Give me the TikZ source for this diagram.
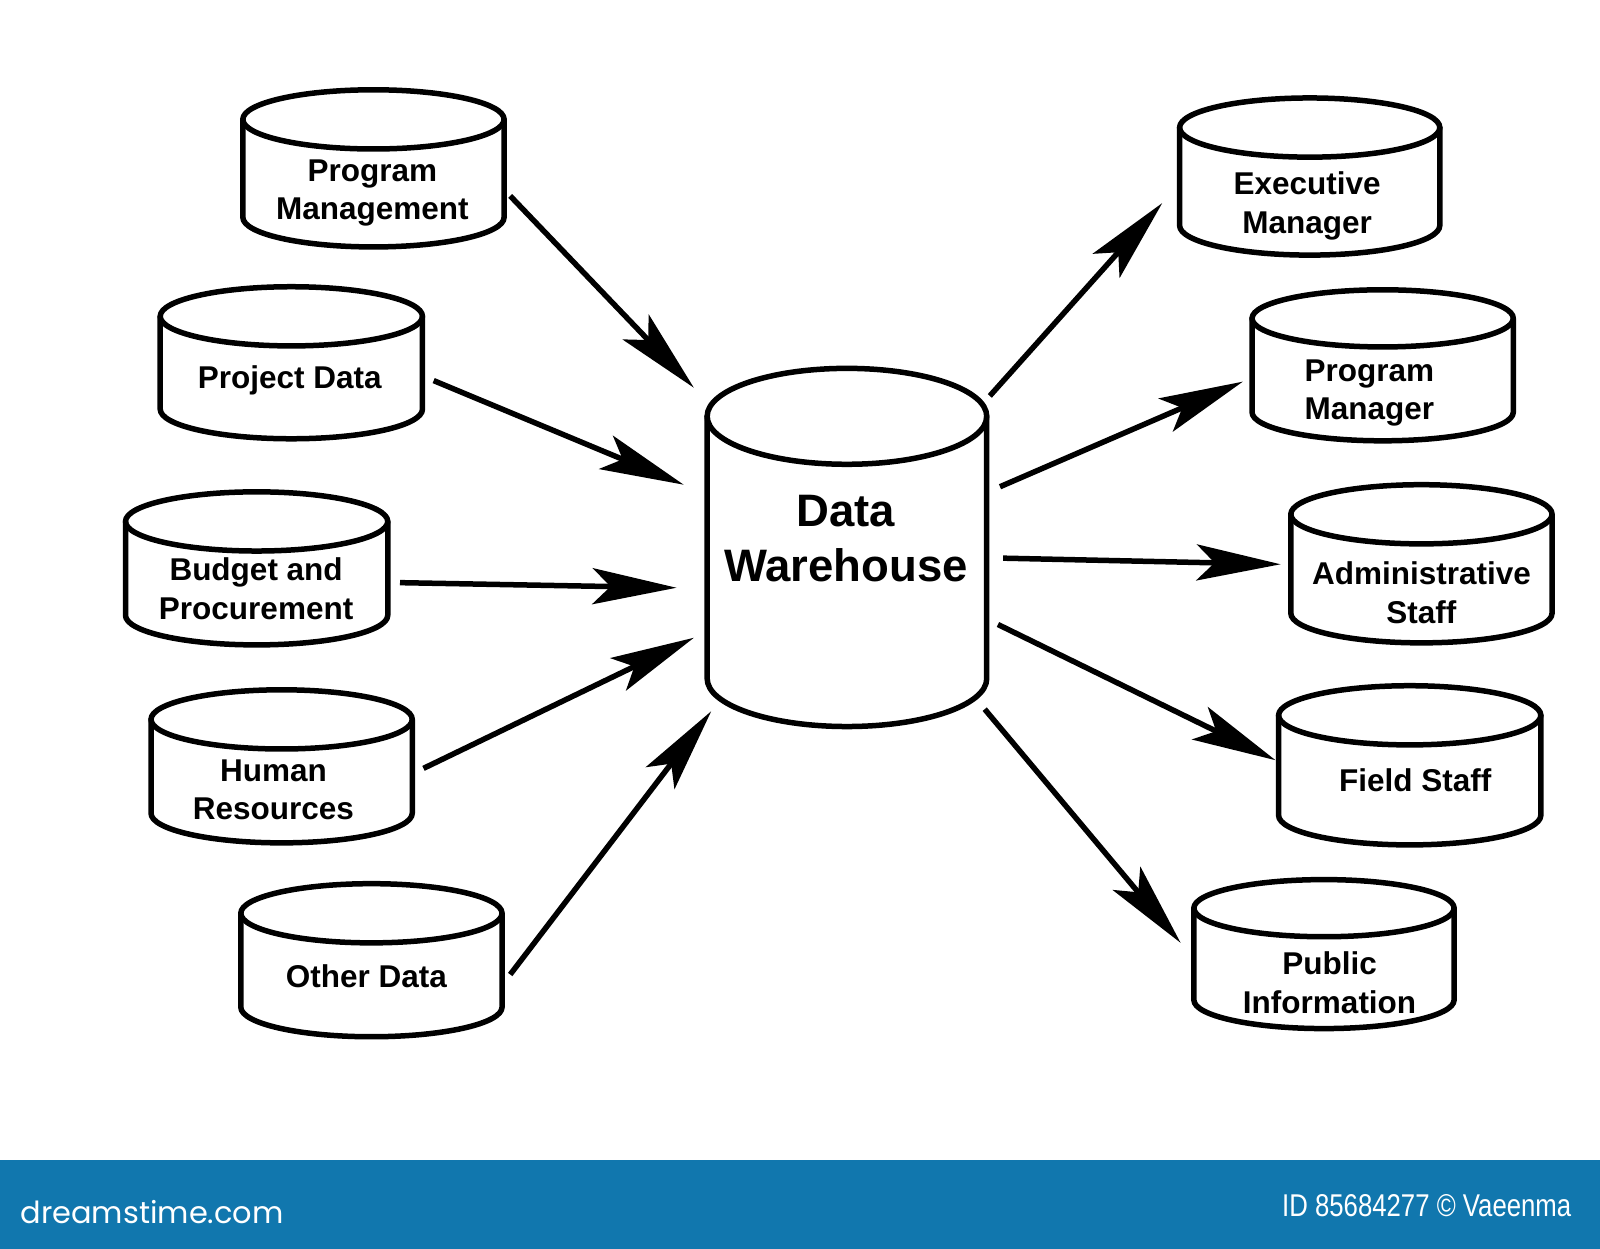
\documentclass[tikz,border=0pt]{standalone}
\usepackage{fontspec}
\setmainfont{Liberation Sans}
\usepackage{graphicx}
\usetikzlibrary{arrows.meta,calc}
\definecolor{bannerblue}{RGB}{17,119,174}
\newcommand{\cylshape}[5]{%
  \pgfmathsetmacro\cylxL{#1-(#4)/2}%
  \pgfmathsetmacro\cylxR{#1+(#4)/2}%
  \pgfmathsetmacro\cylyT{-(#2)-(#5)}%
  \pgfmathsetmacro\cylyB{-(#3)+(#5)}%
  \pgfmathsetmacro\cylrx{(#4)/2}%
  \draw[cyl] (#1,\cylyT) ellipse[x radius=\cylrx, y radius=#5];
  \draw[cyl] (\cylxL,\cylyT) -- (\cylxL,\cylyB) arc[start angle=180,end angle=360,x radius=\cylrx,y radius=#5] -- (\cylxR,\cylyT);
}
\begin{document}
\begin{tikzpicture}[x=1.0204pt,y=1.0204pt,
  cyl/.style={line width=5.5pt,line join=round,line cap=round},
  lbl/.style={font=\fontsize{31.5}{38.5}\selectfont\bfseries,align=center,inner sep=0pt},
  biglbl/.style={font=\fontsize{45.5}{55}\selectfont\bfseries,align=center,inner sep=0pt},
  arr/.style={line width=5.5pt,-{Stealth[length=84pt,width=36pt,inset=18pt]}}]
\useasboundingbox (0,0) rectangle (1568,-1224);
\fill[white] (0,0) rectangle (1568,-1224);

% cylinders: cx, top, bottom, width, ry
\cylshape{366}{88}{242}{256}{29}
\cylshape{285.5}{281}{430}{257}{29}
\cylshape{251.5}{482}{632}{257}{29}
\cylshape{276}{676}{826}{256}{29}
\cylshape{364}{866}{1016}{256}{29}
\cylshape{1283.5}{96}{250}{255}{29}
\cylshape{1355}{284}{432}{256}{28}
\cylshape{1393}{475}{630}{256}{29}
\cylshape{1381.5}{672}{828}{257}{29}
\cylshape{1297.5}{862}{1008}{255}{28}
\cylshape{830}{361}{712}{274}{47}

% labels
\node[lbl] (pm) at (365,-189) {Program\\Management};
\node[lbl] (pd) at (284,-373) {Project Data};
\node[lbl] (bp) at (251,-577) {Budget and\\Procurement};
\node[lbl] (hr) at (268,-774) {Human\\Resources};
\node[lbl] (od) at (359,-957) {Other Data};
\node[lbl] (em) at (1281,-202) {Executive\\Manager};
\node[lbl] (pmg) at (1342,-385) {Program\\Manager};
\node[lbl] (as) at (1393,-581) {Administrative\\Staff};
\node[lbl] (fs) at (1387,-765) {Field Staff};
\node[lbl] (pi) at (1303,-963) {Public\\Information};
\node[biglbl] (dw) at (829,-528) {Data\\Warehouse};

% arrow end points
\coordinate (pm-out) at (500,-192);  \coordinate (dw-in1) at (680,-380);
\coordinate (pd-out) at (425,-373);  \coordinate (dw-in2) at (670,-475);
\coordinate (bp-out) at (392,-571);  \coordinate (dw-in3) at (663,-576);
\coordinate (hr-out) at (415,-753);  \coordinate (dw-in4) at (680,-625);
\coordinate (od-out) at (500,-955);  \coordinate (dw-in5) at (697,-697);
\coordinate (dw-out1) at (970,-388); \coordinate (em-in) at (1139,-199);
\coordinate (dw-out2) at (980,-477); \coordinate (pmg-in) at (1218,-374);
\coordinate (dw-out3) at (983,-547); \coordinate (as-in) at (1255,-553);
\coordinate (dw-out4) at (978,-612); \coordinate (fs-in) at (1250,-745);
\coordinate (dw-out5) at (965,-695); \coordinate (pi-in) at (1157,-924);

\draw[arr] (pm-out) -- (dw-in1);
\draw[arr] (pd-out) -- (dw-in2);
\draw[arr] (bp-out) -- (dw-in3);
\draw[arr] (hr-out) -- (dw-in4);
\draw[arr] (od-out) -- (dw-in5);
\draw[arr] (dw-out1) -- (em-in);
\draw[arr] (dw-out2) -- (pmg-in);
\draw[arr] (dw-out3) -- (as-in);
\draw[arr] (dw-out4) -- (fs-in);
\draw[arr] (dw-out5) -- (pi-in);

% banner
\fill[bannerblue] (0,-1137) rectangle (1568,-1224);
\node[anchor=west,text=white,inner sep=0pt] (logo) at (20,-1188)
  {\resizebox{263pt}{!}{\fontspec{Poppins}dreamstime.com}};
\node[anchor=east,text=white,inner sep=0pt] (credit) at (1540,-1182)
  {\resizebox{289pt}{22pt}{\fontspec{Liberation Sans}ID 85684277 \textcopyright{} Vaeenma}};
\end{tikzpicture}
\end{document}
